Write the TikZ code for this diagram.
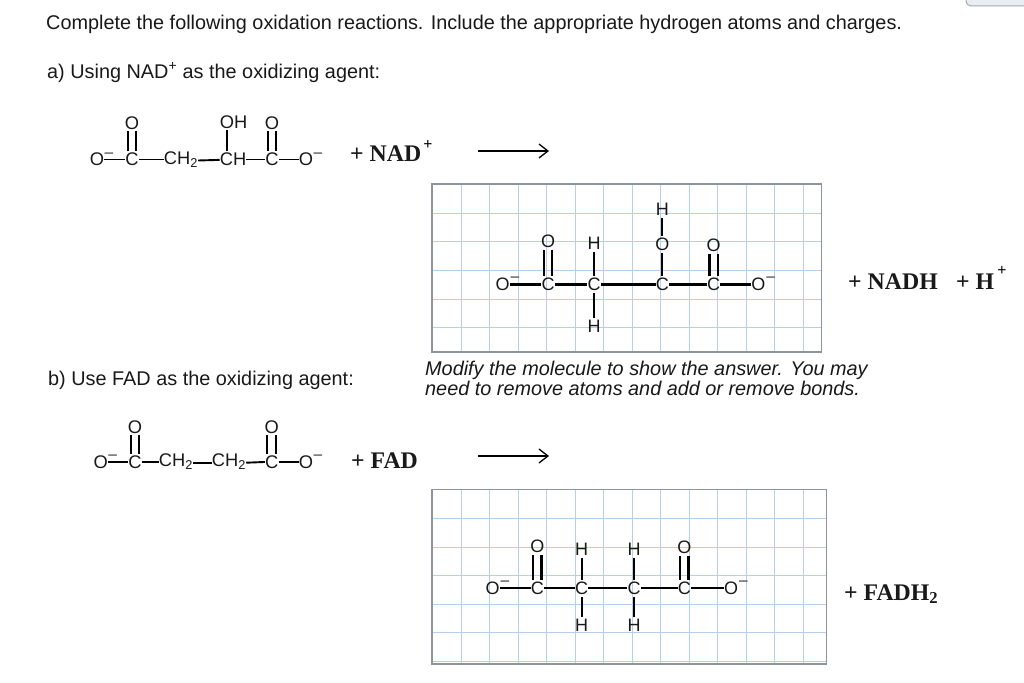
\documentclass[tikz,border=0pt]{standalone}
\usepackage{fontspec}
\setmainfont{Liberation Sans}
\newfontfamily\serifbf[BoldFont=Liberation Serif Bold]{Liberation Serif}
\usetikzlibrary{arrows.meta}
\definecolor{gridblue}{HTML}{B4CEEC}
\definecolor{boxgray}{HTML}{8C959E}
\definecolor{btnfill}{HTML}{E9EEF3}
\tikzset{
  x=1pt,y=-1pt,
  body/.style={inner sep=0pt,anchor=base west,font=\fontsize{19.85}{22}\selectfont,text=black!90},
  atom/.style={inner xsep=0pt,inner ysep=1.5pt,font=\fontsize{18.3}{19}\selectfont,text=black!90},
  atomg/.style={atom,inner xsep=0pt,inner ysep=2pt,font=\fontsize{18}{19}\selectfont},
  charge/.style={inner sep=0pt,font=\fontsize{15.5}{15}\selectfont,text=black!85},
  bond/.style={draw=black,line width=1.9pt},
  bondg/.style={draw=black,line width=2.3pt},
  plusterm/.style={inner sep=0pt,anchor=base west,font=\serifbf\bfseries\fontsize{23.8}{24}\selectfont,text=black!90},
  rxn/.style={draw=black,line width=1.3pt,-{Straight Barb[length=9pt,width=14pt,line width=1.3pt]}},
  gridline/.style={draw=gridblue,line width=1.2pt},
  gridbox/.style={draw=boxgray,line width=1.3pt},
}
\begin{document}
\begin{tikzpicture}
\path[use as bounding box,fill=white] (0,0) rectangle (1024,682);
% button fragment
\path[draw=boxgray!80,fill=btnfill,line width=1pt,rounded corners=5pt] (966,-10) -- (966,6) -- (1034,6) -- (1034,-10);

% texts
\node[body] (t1) at (46,30) {Complete the following oxidation reactions. Include the appropriate hydrogen atoms and charges.};
\node[body] (t2) at (47,78.5) {a) Using NAD\textsuperscript{+} as the oxidizing agent:};
\node[body] (t3) at (48,385.5) {b) Use FAD as the oxidizing agent:};
\node[body,font=\itshape\fontsize{19.85}{22}\selectfont] (t4) at (425,375.5) {Modify the molecule to show the answer. You may};
\node[body,font=\itshape\fontsize{19.85}{22}\selectfont] (t5) at (425,395.5) {need to remove atoms and add or remove bonds.};

% molecule a
\node[atom] (a1) at (97,159.5) {O};
\node[charge] (a1m) at (109,155) {–};
\node[atom] (a2) at (132,159.5) {C};
\node[atom] (a3) at (132,123) {O};
\node[atom] (a4) at (181,159.5) {CH\textsubscript{2}};
\node[atom] (a5) at (233,159.5) {CH};
\node[atom] (a6) at (233.5,122) {OH};
\node[atom] (a7) at (272,159.5) {C};
\node[atom] (a8) at (272,123) {O};
\node[atom] (a9) at (306,159.5) {O};
\node[charge] (a9m) at (318,155) {–};
\draw[bond] (a1) -- (a2);
\draw[bond] (a2) -- (a4);
\draw[bond] ([yshift=-1pt]a4.east) -- (a5);
\draw[bond] (a5) -- (a7);
\draw[bond] (a7) -- (a9);
\draw[bond] ([xshift=-4.3pt]a2.north) -- ([xshift=-4.3pt]a3.south);
\draw[bond] ([xshift=4.3pt]a2.north) -- ([xshift=4.3pt]a3.south);
\draw[bond] ([xshift=-6pt]a5.north) -- ([xshift=-6.5pt]a6.south);
\draw[bond] ([xshift=-4.3pt]a7.north) -- ([xshift=-4.3pt]a8.south);
\draw[bond] ([xshift=4.3pt]a7.north) -- ([xshift=4.3pt]a8.south);
\node[plusterm] (aplus) at (350,161) {+ NAD};
\node[inner sep=0pt,font=\serifbf\bfseries\fontsize{16}{16}\selectfont] (aplussup) at (428,145) {+};
\coordinate (ar1s) at (478,151);
\coordinate (ar1e) at (549,151);
\draw[rxn] (ar1s) -- (ar1e);

% grid a
\foreach \x in {461.5,489.5,518.5,546.5,575.5,603.5,632.5,660.5,689.5,717.5,746.5,774.5,803.5}
  \draw[gridline] (\x,184) -- (\x,352);
\foreach \y in {213.5,241.5,270.5,299.5,327.5}
  \draw[gridline] (432,\y) -- (821.7,\y);
\draw[gridbox] (432,184) rectangle (821.7,352);

\node[atomg] (b1) at (502.7,284.5) {O};
\node[charge] (b1m) at (515,279.7) {–};
\node[atomg] (b2) at (548,284.5) {C};
\node[atomg] (b3) at (548,241.7) {O};
\node[atomg] (b4) at (594,284.5) {C};
\node[atomg] (b5) at (594,243.3) {H};
\node[atomg] (b6) at (594,326) {H};
\node[atomg] (b7) at (662.3,284.5) {C};
\node[atomg] (b8) at (662.3,244.3) {O};
\node[atomg] (b9) at (662.3,209.3) {H};
\node[atomg] (b10) at (713.7,284.5) {C};
\node[atomg] (b11) at (713.7,245) {O};
\node[atomg] (b12) at (758.3,284.5) {O};
\node[charge] (b12m) at (770.7,279.7) {–};
\draw[bondg] (b1) -- (b2);
\draw[bondg] (b2) -- (b4);
\draw[bondg] (b4) -- (b7);
\draw[bondg] (b7) -- (b10);
\draw[bondg] (b10) -- (b12);
\draw[bondg] ([xshift=-4.2pt]b2.north) -- ([xshift=-4.2pt]b3.south);
\draw[bondg] ([xshift=4.2pt]b2.north) -- ([xshift=4.2pt]b3.south);
\draw[bondg] (b4) -- (b5);
\draw[bondg] (b4) -- (b6);
\draw[bondg] (b7) -- (b8);
\draw[bondg] (b8) -- (b9);
\draw[bondg] ([xshift=-4.2pt]b10.north) -- ([xshift=-4.2pt]b11.south);
\draw[bondg] ([xshift=4.2pt]b10.north) -- ([xshift=4.2pt]b11.south);
\node[plusterm] (bplus) at (848,289) {+ NADH};
\node[plusterm] (bplus2) at (956,289) {+ H};
\node[inner sep=0pt,font=\serifbf\bfseries\fontsize{16}{16}\selectfont] (bplussup) at (1002,271) {+};

% molecule b
\node[atom] (c1) at (100.7,461.7) {O};
\node[charge] (c1m) at (112.7,457) {–};
\node[atom] (c2) at (135,461.7) {C};
\node[atom] (c3) at (135,426.7) {O};
\node[atom] (c4) at (176,461.7) {CH\textsubscript{2}};
\node[atom] (c5) at (229,461.7) {CH\textsubscript{2}};
\node[atom] (c6) at (271.7,461.7) {C};
\node[atom] (c7) at (271.7,426.7) {O};
\node[atom] (c8) at (306,461.7) {O};
\node[charge] (c8m) at (318,457) {–};
\draw[bond] (c1) -- (c2);
\draw[bond] (c2) -- (c4);
\draw[bond] ([yshift=-1pt]c4.east) -- ([yshift=-1pt]c5.west);
\draw[bond] ([yshift=-1pt]c5.east) -- (c6);
\draw[bond] (c6) -- (c8);
\draw[bond] ([xshift=-4.3pt]c2.north) -- ([xshift=-4.3pt]c3.south);
\draw[bond] ([xshift=4.3pt]c2.north) -- ([xshift=4.3pt]c3.south);
\draw[bond] ([xshift=-4.3pt]c6.north) -- ([xshift=-4.3pt]c7.south);
\draw[bond] ([xshift=4.3pt]c6.north) -- ([xshift=4.3pt]c7.south);
\node[plusterm] (cplus) at (351,468) {+ FAD};
\coordinate (ar2s) at (478,456);
\coordinate (ar2e) at (549,456);
\draw[rxn] (ar2s) -- (ar2e);

% grid b
\foreach \x in {461.5,489.5,518.5,546.5,575.5,603.5,632.5,660.5,689.5,717.5,746.5,774.5,803.5}
  \draw[gridline] (\x,489.3) -- (\x,664);
\foreach \y in {518.5,547.5,575.5,604.5,632.5,661.5}
  \draw[gridline] (432,\y) -- (826.7,\y);
\draw[gridbox] (432,489.3) rectangle (826.7,664);

\node[atomg] (d1) at (492.7,588.3) {O};
\node[charge] (d1m) at (505,583.3) {–};
\node[atomg] (d2) at (537.3,588.3) {C};
\node[atomg] (d3) at (537.3,546.7) {O};
\node[atomg] (d4) at (581.7,588.3) {C};
\node[atomg] (d5) at (581.7,549.3) {H};
\node[atomg] (d6) at (581.7,625) {H};
\node[atomg] (d7) at (634,588.3) {C};
\node[atomg] (d8) at (634,549.3) {H};
\node[atomg] (d9) at (634,625) {H};
\node[atomg] (d10) at (684.3,588.3) {C};
\node[atomg] (d11) at (684.3,547.7) {O};
\node[atomg] (d12) at (731,588.3) {O};
\node[charge] (d12m) at (743.3,583.3) {–};
\draw[bondg] (d1) -- (d2);
\draw[bondg] (d2) -- (d4);
\draw[bondg] (d4) -- (d7);
\draw[bondg] (d7) -- (d10);
\draw[bondg] (d10) -- (d12);
\draw[bondg] ([xshift=-4.2pt]d2.north) -- ([xshift=-4.2pt]d3.south);
\draw[bondg] ([xshift=4.2pt]d2.north) -- ([xshift=4.2pt]d3.south);
\draw[bondg] (d4) -- (d5);
\draw[bondg] (d4) -- (d6);
\draw[bondg] (d7) -- (d8);
\draw[bondg] (d7) -- (d9);
\draw[bondg] ([xshift=-4.2pt]d10.north) -- ([xshift=-4.2pt]d11.south);
\draw[bondg] ([xshift=4.2pt]d10.north) -- ([xshift=4.2pt]d11.south);
\node[plusterm] (dplus) at (844,600) {+ FADH\textsubscript{2}};
\end{tikzpicture}
\end{document}
